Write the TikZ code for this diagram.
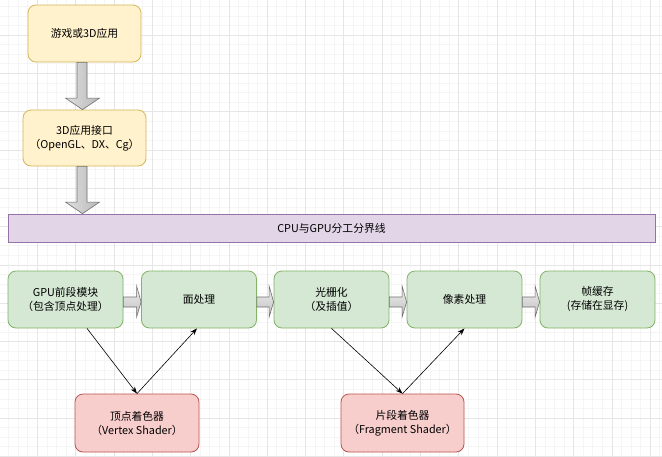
\documentclass[tikz,border=0pt]{standalone}
\usepackage{fontspec}
\newfontfamily\cjk{Noto Sans CJK SC}
\usetikzlibrary{arrows.meta,calc}
\definecolor{yfill}{HTML}{FFF2CC}
\definecolor{yline}{HTML}{D6B656}
\definecolor{gfill}{HTML}{D5E8D4}
\definecolor{gline}{HTML}{82B366}
\definecolor{rfill}{HTML}{F8CECC}
\definecolor{rline}{HTML}{B85450}
\definecolor{pfill}{HTML}{E1D5E7}
\definecolor{pline}{HTML}{9673A6}
\definecolor{arrowline}{HTML}{6E6E6E}
\definecolor{gridminor}{HTML}{F5F5F5}
\definecolor{gridmajor}{HTML}{E6E6E6}
\tikzset{
  box/.style={draw, rounded corners=8pt, line width=0.8pt, align=center,
    inner sep=0pt, font=\cjk\fontsize{10.8}{14}\selectfont},
  ybox/.style={box, fill=yfill, draw=yline},
  gbox/.style={box, fill=gfill, draw=gline, minimum width=115pt, minimum height=57pt},
  rbox/.style={box, fill=rfill, draw=rline, minimum height=58pt},
  blockv/.style={draw=arrowline, line width=0.6pt, left color=gray!25, right color=gray!55},
  blockh/.style={draw=arrowline, line width=0.6pt, top color=gray!12, bottom color=gray!50},
  thinarrow/.style={-{Stealth[length=7pt,width=5pt]}, line width=0.6pt}
}
\begin{document}
\begin{tikzpicture}[x=1pt,y=-1pt]
  \useasboundingbox (0,0) rectangle (662,456);
  \fill[white] (0,0) rectangle (662,456);
  % grid
  \foreach \i in {0,...,70}
    \draw[gridminor, line width=0.5pt] (-1+9.575*\i,0) -- (-1+9.575*\i,456);
  \foreach \i in {0,...,48}
    \draw[gridminor, line width=0.5pt] (0,-3.3+9.575*\i) -- (662,-3.3+9.575*\i);
  \foreach \i in {0,...,17}
    \draw[gridmajor, line width=0.6pt] (-1+38.3*\i,0) -- (-1+38.3*\i,456);
  \foreach \i in {0,...,12}
    \draw[gridmajor, line width=0.6pt] (0,-3.3+38.3*\i) -- (662,-3.3+38.3*\i);

  % CPU side
  \node[ybox, minimum width=113pt, minimum height=57pt] (app) at (84.5,33.5) {游戏或3D应用};
  \node[ybox, minimum width=123pt, minimum height=56pt] (api) at (84.5,138) {3D应用接口\\（OpenGL、DX、Cg）};
  \node[draw=pline, fill=pfill, line width=0.8pt, minimum width=647pt, minimum height=28pt,
    inner sep=0pt, font=\cjk\fontsize{10.8}{14}\selectfont] (split) at (331.5,228) {CPU与GPU分工分界线};

  % GPU pipeline
  \node[gbox] (front) at (65.5,299.5) {GPU前段模块\\（包含顶点处理）};
  \node[gbox] (prim) at (199,299.5) {面处理};
  \node[gbox] (rast) at (331.5,299.5) {光栅化\\（及插值）};
  \node[gbox] (pix) at (464.5,299.5) {像素处理};
  \node[gbox] (fb) at (597.5,299.5) {帧缓存\\(存储在显存)};

  % shaders
  \node[rbox, minimum width=124pt] (vs) at (137,423) {顶点着色器\\（Vertex Shader）};
  \node[rbox, minimum width=123pt] (fs) at (402.5,423) {片段着色器\\（Fragment Shader）};

  % block arrows
  \foreach \a/\b in {app/api, api/split} {
    \coordinate (t) at (\a.south |- \b.north);
    \draw[blockv] ($(\a.south)+(-7.5,0)$) -- ($(\a.south)+(2.5,0)$) -- ($(t)+(2.5,-11.5)$)
      -- ($(t)+(15,-11.5)$) -- ($(t)+(-2,0)$) -- ($(t)+(-19,-11.5)$)
      -- ($(t)+(-7.5,-11.5)$) -- cycle;
  }
  \foreach \a/\b in {front/prim, prim/rast, rast/pix, pix/fb} {
    \draw[blockh] ($(\a.east)+(0,-2.5)$) -- ($(\b.west)+(-4.5,-2.5)$) -- ($(\b.west)+(-4.5,-13.5)$)
      -- ($(\b.west)+(0,2.5)$) -- ($(\b.west)+(-4.5,17.5)$) -- ($(\b.west)+(-4.5,7.5)$)
      -- ($(\a.east)+(0,7.5)$) -- cycle;
  }

  % shader links
  \draw[thinarrow] ([xshift=21.5pt]front.south) -- (vs.north);
  \draw[thinarrow] (vs.north) -- ([xshift=-2pt]prim.south);
  \draw[thinarrow] (rast.south) -- (fs.north);
  \draw[thinarrow] (fs.north) -- (pix.south);
\end{tikzpicture}
\end{document}
